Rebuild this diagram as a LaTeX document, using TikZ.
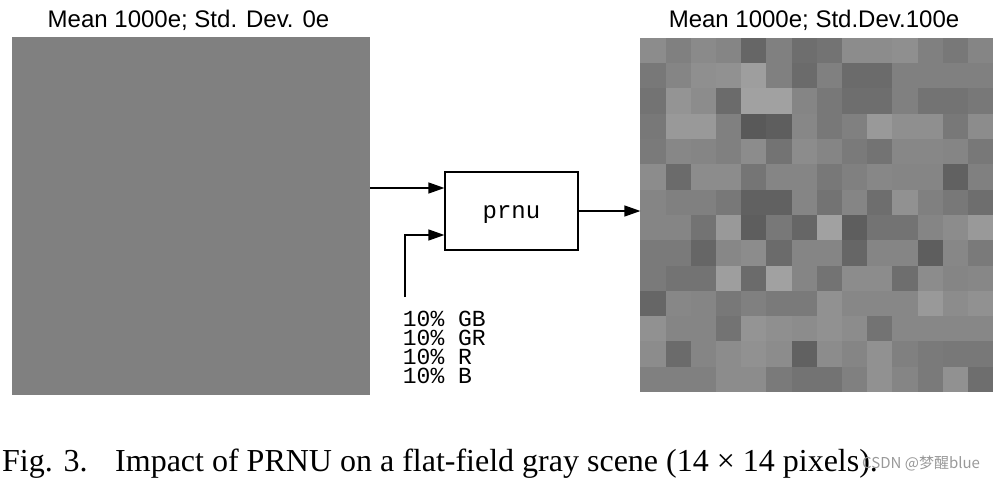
\documentclass[tikz,border=0pt]{standalone}
\usepackage{fontspec}
\setmainfont{Liberation Serif}
\setsansfont{Liberation Sans}
\setmonofont{Liberation Mono}
\newfontfamily\cjk{Noto Sans CJK SC}
\usetikzlibrary{arrows.meta}

\begin{document}
\begin{tikzpicture}[x=1pt,y=-1pt,
	arr/.style={-{Triangle[length=16pt,width=11pt]},line width=1.3pt},
	title/.style={font=\sffamily\fontsize{24}{28}\selectfont,anchor=base},
	every node/.style={inner sep=0pt}]
	\useasboundingbox (0,0) rectangle (997,480);
	\node[fill=black!50,minimum width=357.7pt,minimum height=358pt] (flat) at (191.2,216) {};
	\node[minimum width=352.8pt,minimum height=354.2pt] (noisy) at (817,215.1) {};
	\foreach \row [count=\r from 0] in {
		{55,50,54,52,40,50,43,45,55,55,56,50,47,52},
		{47,52,56,57,62,50,42,50,42,42,50,50,50,50},
		{45,58,55,42,63,63,52,47,43,43,50,45,45,47},
		{47,60,60,50,35,37,53,47,50,60,56,56,47,55},
		{48,53,52,50,55,45,55,52,48,45,53,53,52,47},
		{55,42,55,55,46,52,52,47,50,53,52,52,38,50},
		{52,50,50,47,38,38,52,45,52,43,57,50,47,43},
		{52,52,45,60,37,47,40,63,37,45,45,52,55,60},
		{48,48,40,53,55,42,52,52,40,52,52,37,53,48},
		{48,45,45,62,42,63,52,45,55,55,43,55,52,53},
		{40,53,52,47,50,48,48,57,53,53,53,60,55,57},
		{57,52,52,45,58,56,55,57,55,45,53,53,53,53},
		{55,42,52,55,57,55,38,55,52,57,50,48,47,47},
		{50,50,50,55,55,48,45,45,50,57,52,48,57,43}} {
		\foreach \g [count=\c from 0] in \row {
			\fill[white!\g!black] ([xshift=25.2*\c pt,yshift=-25.3*\r pt]noisy.north west) rectangle +(25.4,25.5);
		}
	}
	\node[title] (t1) at (188.5,27) {Mean 1000e; Std. Dev. 0e};
	\node[title] (t2) at (814,27) {Mean 1000e; Std.Dev.100e};
	\node[draw,line width=1.2pt,minimum width=133pt,minimum height=78pt,text height=20pt,text depth=6pt,
		font=\ttfamily\fontsize{24}{28}\selectfont] (prnu) at (511.5,211) {prnu};
	\node[align=left,anchor=north west,font=\ttfamily\fontsize{23}{19.3}\selectfont] (gains) at (402.7,310.5)
		{10\% GB\\10\% GR\\10\% R\\10\% B};
	\coordinate (in1) at ([yshift=23pt]prnu.west);
	\coordinate (in2) at ([yshift=-24pt]prnu.west);
	\coordinate (tap) at (405,297);
	\draw[arr] (flat.east |- in1) -- (in1);
	\draw[arr] (tap) |- (in2);
	\draw[arr] (prnu.east) -- (noisy.west |- prnu.east);
	\node[anchor=base west,font=\fontsize{32}{36}\selectfont] (fig) at (2,471.5) {Fig. 3.};
	\node[anchor=base west,font=\fontsize{32}{36}\selectfont] (cap) at (115,471.5)
		{Impact of PRNU on a flat-field gray scene (14 × 14 pixels).};
	\node[anchor=west,text=black!40,font=\cjk\fontsize{15}{18}\selectfont] (mark) at (862,463) {CSDN @梦醒blue};
\end{tikzpicture}
\end{document}
